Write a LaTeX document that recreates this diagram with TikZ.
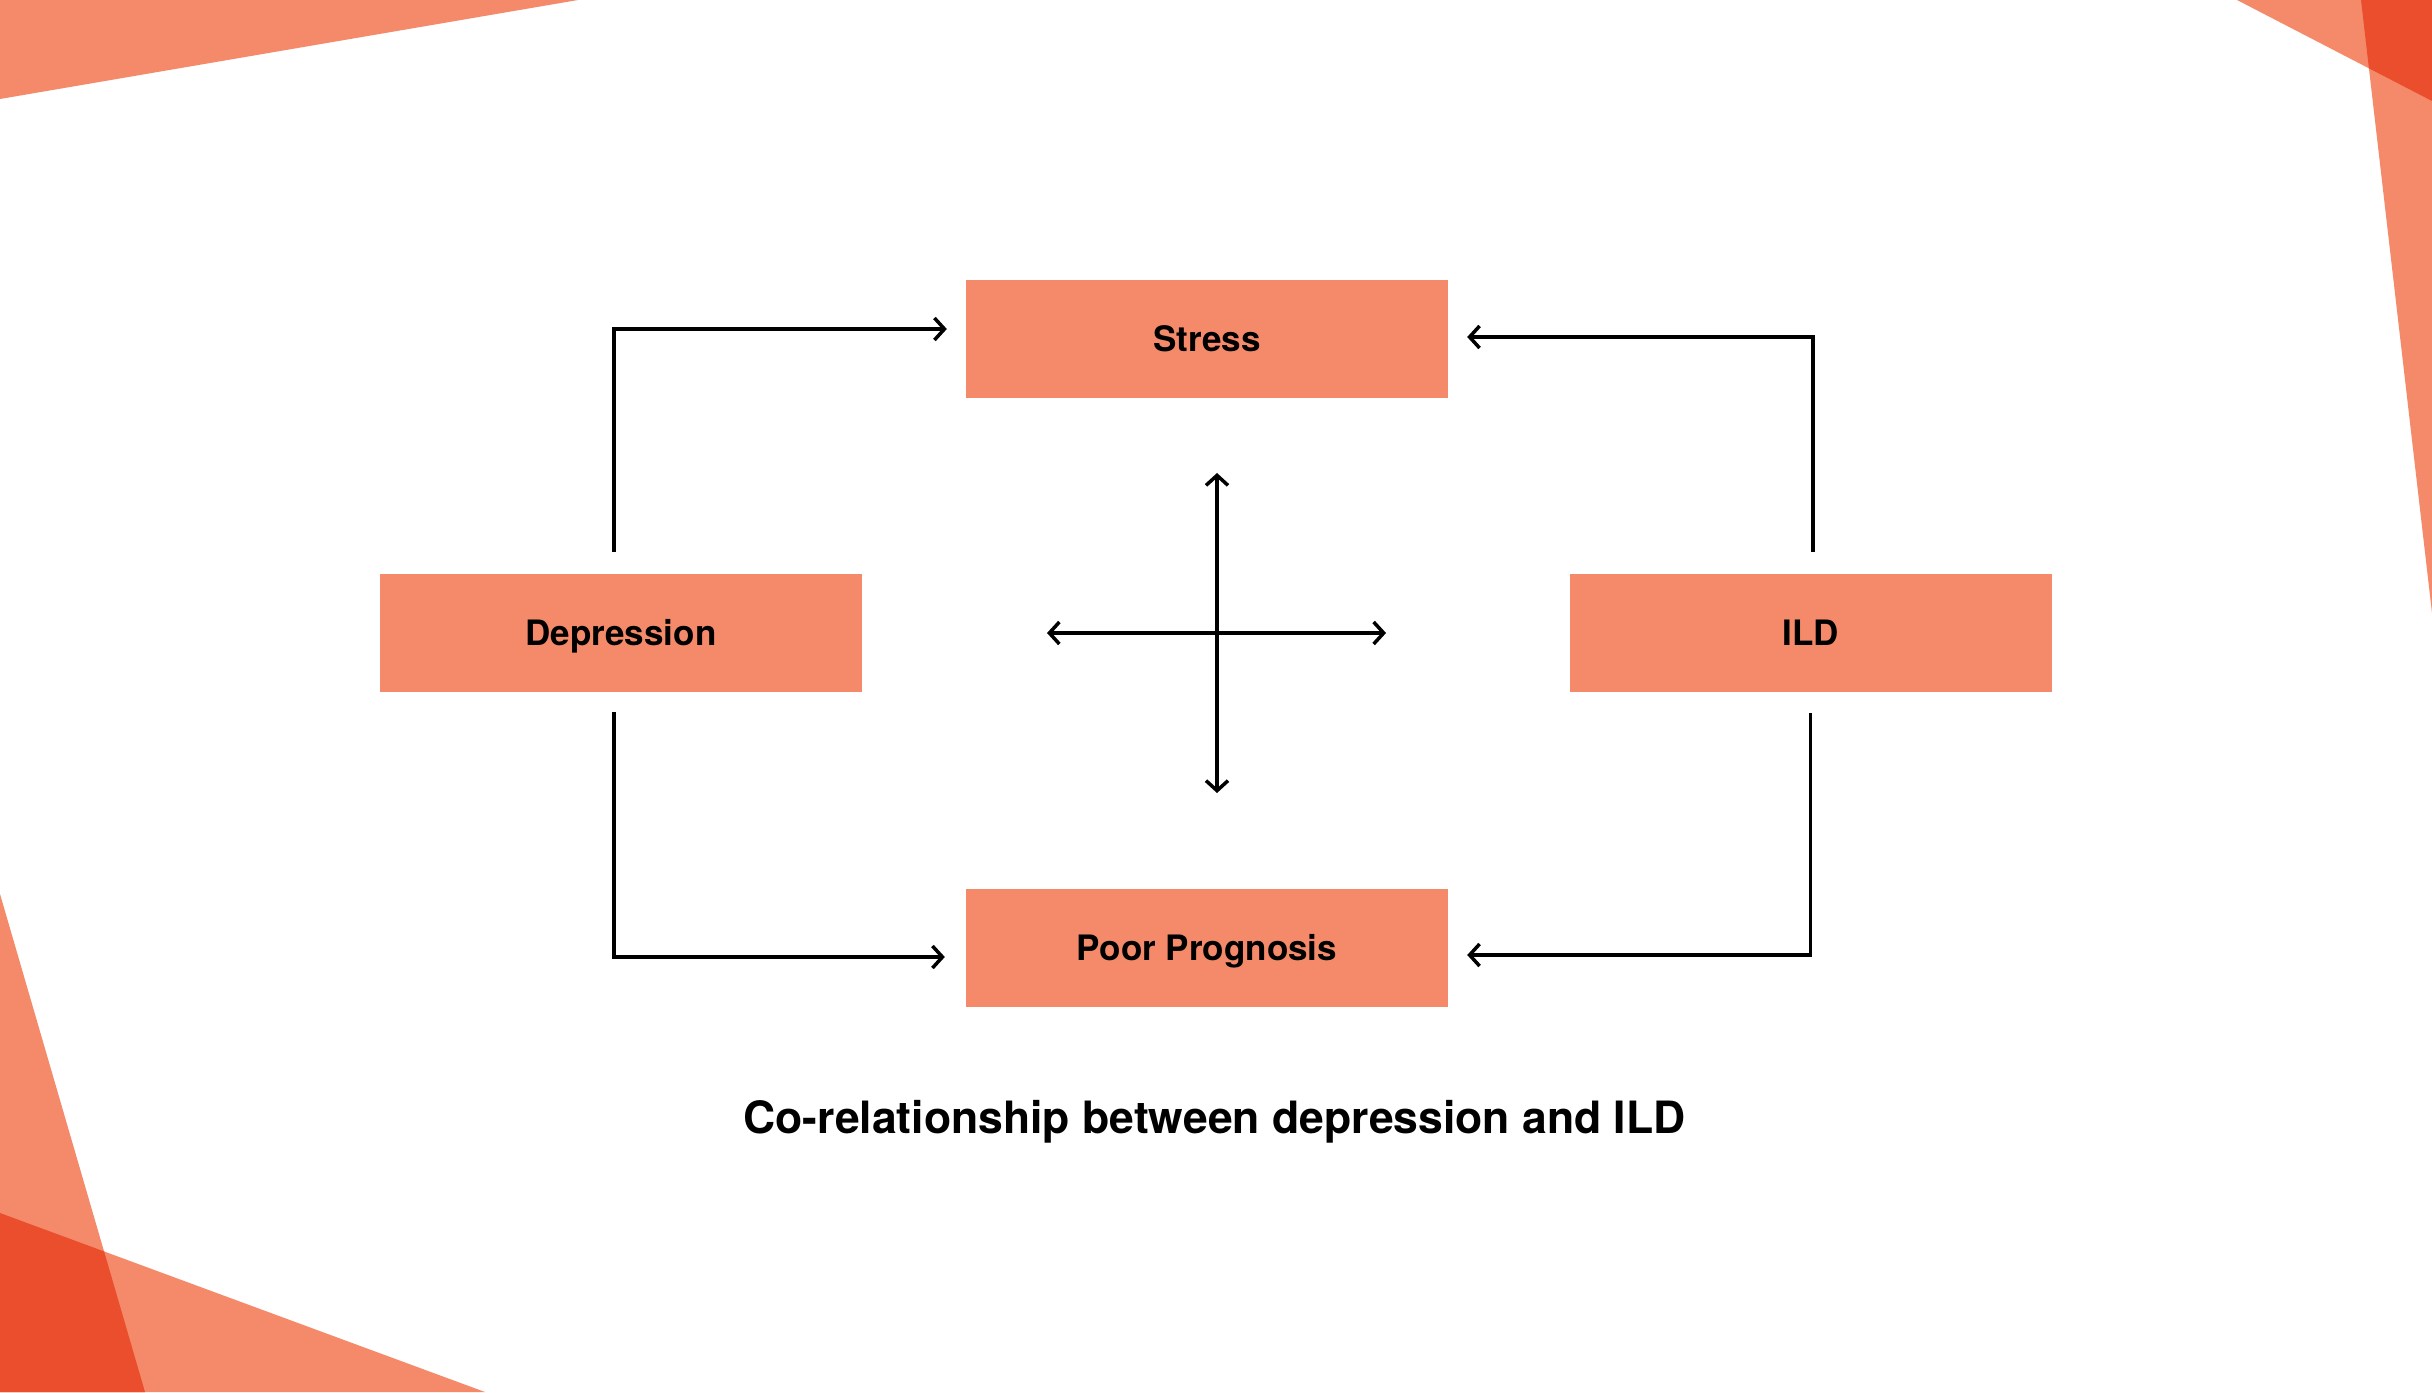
\documentclass[tikz,border=0pt]{standalone}
\usepackage{fontspec}
\setmainfont{TeX Gyre Heros}
\usetikzlibrary{arrows.meta}
\definecolor{salmon}{HTML}{F48A6A}
\definecolor{deeporange}{HTML}{EA4E2D}
\begin{document}
\begin{tikzpicture}[x=1pt,y=-1pt,
  box/.style={fill=salmon, draw=none, minimum width=482pt, minimum height=118pt, inner sep=0pt},
  lbl/.style={font=\fontsize{35}{42}\selectfont\bfseries, anchor=base, inner sep=0pt},
  arr/.style={line width=3.5pt, -{Straight Barb[length=10pt,width=22pt,line width=3.5pt]}},
  arrboth/.style={line width=3.5pt, {Straight Barb[length=10pt,width=22pt,line width=3.5pt]}-{Straight Barb[length=10pt,width=22pt,line width=3.5pt]}}
]
\useasboundingbox (0,0) rectangle (2432,1392);
\fill[white] (0,0) rectangle (2432,1392);

% corner decorations
\fill[salmon] (0,0) -- (578,0) -- (0,99) -- cycle;
\fill[salmon] (2237,0) -- (2432,0) -- (2432,101) -- cycle;
\fill[salmon] (2361,0) -- (2432,0) -- (2432,613) -- cycle;
\fill[deeporange] (2361,0) -- (2432,0) -- (2432,101) -- (2368.9,68.3) -- cycle;
\fill[salmon] (0,894) -- (145,1392) -- (0,1392) -- cycle;
\fill[salmon] (0,1213) -- (485,1392) -- (0,1392) -- cycle;
\fill[deeporange] (0,1213) -- (104.1,1251.4) -- (145,1392) -- (0,1392) -- cycle;

% boxes
\node[box] (stress) at (1207,339) {};
\node[box] (dep) at (621,633) {};
\node[box] (ild) at (1810.5,633) {};
\node[box] (pp) at (1207,948) {};

\node[lbl] (stresst) at (1207,351.5) {Stress};
\node[lbl] (dept) at (621,645.5) {Depression};
\node[lbl] (ildt) at (1810.5,645.5) {ILD};
\node[lbl] (ppt) at (1207,960.5) {Poor Prognosis};

% connectors
\draw[arr] ([xshift=-7pt,yshift=22pt]dep.north) |- ([xshift=-19pt,yshift=10pt]stress.west);
\draw[arr] ([xshift=-7pt,yshift=-20pt]dep.south) |- ([xshift=-21pt,yshift=-9pt]pp.west);
\draw[arr] ([xshift=2.5pt,yshift=22pt]ild.north) |- ([xshift=19pt,yshift=2pt]stress.east);
\draw[arr] ([yshift=-21pt]ild.south) |- ([xshift=19pt,yshift=-7pt]pp.east);

% central cross
\coordinate (ct) at (1217,473);
\coordinate (cb) at (1217,793);
\coordinate (cl) at (1047,633);
\coordinate (cr) at (1386,633);
\draw[arrboth] (ct) -- (cb);
\draw[arrboth] (cl) -- (cr);

% caption
\node[font=\fontsize{44.5}{52}\selectfont\bfseries, anchor=base, inner sep=0pt] (title) at (1214.5,1133) {Co-relationship between depression and ILD};
\end{tikzpicture}
\end{document}
